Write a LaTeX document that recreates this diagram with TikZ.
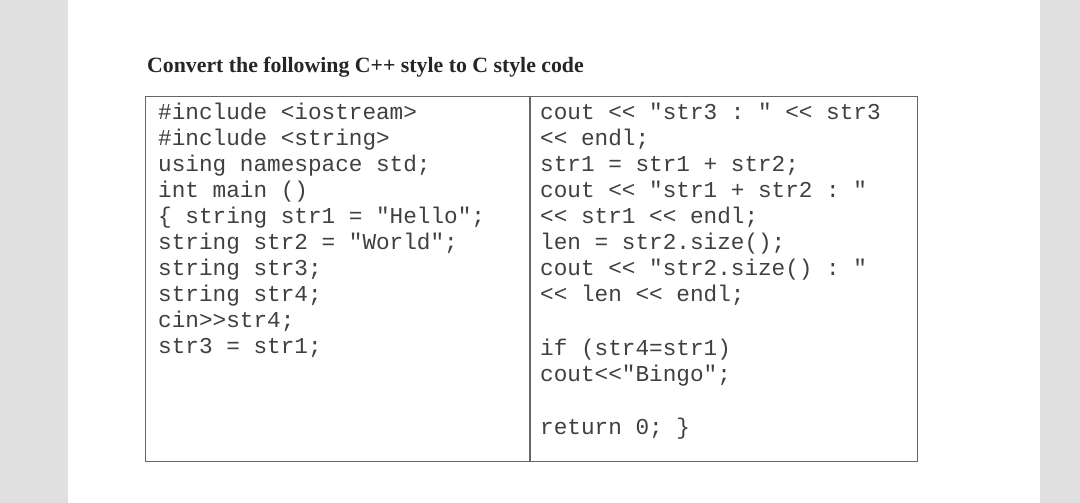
\documentclass[tikz,border=0pt]{standalone}
\usepackage{fontspec}
\setmainfont{Liberation Serif}
\setmonofont{Liberation Mono}
\begin{document}
\begin{tikzpicture}[x=1pt,y=-1pt,
  code/.style={anchor=west,inner sep=0pt,text height=15pt,text depth=5pt,font=\fontsize{22.7}{24}\ttfamily,text=black!75},
  title/.style={anchor=west,inner sep=0pt,font=\fontsize{21.8}{24}\selectfont\bfseries,text=black!85}]
\fill[black!12] (0,0) rectangle (1080,503);
\fill[white] (68,0) rectangle (1040,503);
\useasboundingbox (0,0) rectangle (1080,503);
\node[title] (t) at (147,67) {Convert the following C++ style to C style code};
\node[draw=black!60,line width=1.3pt,minimum width=772pt,minimum height=365pt,inner sep=0pt,anchor=north west] (box) at (145,96) {};
\draw[black!60,line width=1.3pt] (box.north west) ++(385,0) coordinate (d1) -- (d1 |- box.south) coordinate (d2);
\foreach \t [count=\i] in {{\#include <iostream>},{\#include <string>},{using namespace std;},{int main ()},{\{ string str1 = "Hello";},{string str2 = "World";},{string str3;},{string str4;},{cin>>str4;},{str3 = str1;}}
  \node[code] (l\i) at (158,{114+26*(\i-1)}) {\t};
\foreach \t/\y [count=\i] in {{cout << "str3 : " << str3}/114,{<< endl;}/140,{str1 = str1 + str2;}/166,{cout << "str1 + str2 : "}/192,{<< str1 << endl;}/218,{len = str2.size();}/244,{cout << "str2.size() : "}/270,{<< len << endl;}/296,{if (str4=str1)}/350,{cout<<"Bingo";}/376,{return 0; \}}/429}
  \node[code] (r\i) at (540,\y) {\t};
\end{tikzpicture}
\end{document}
